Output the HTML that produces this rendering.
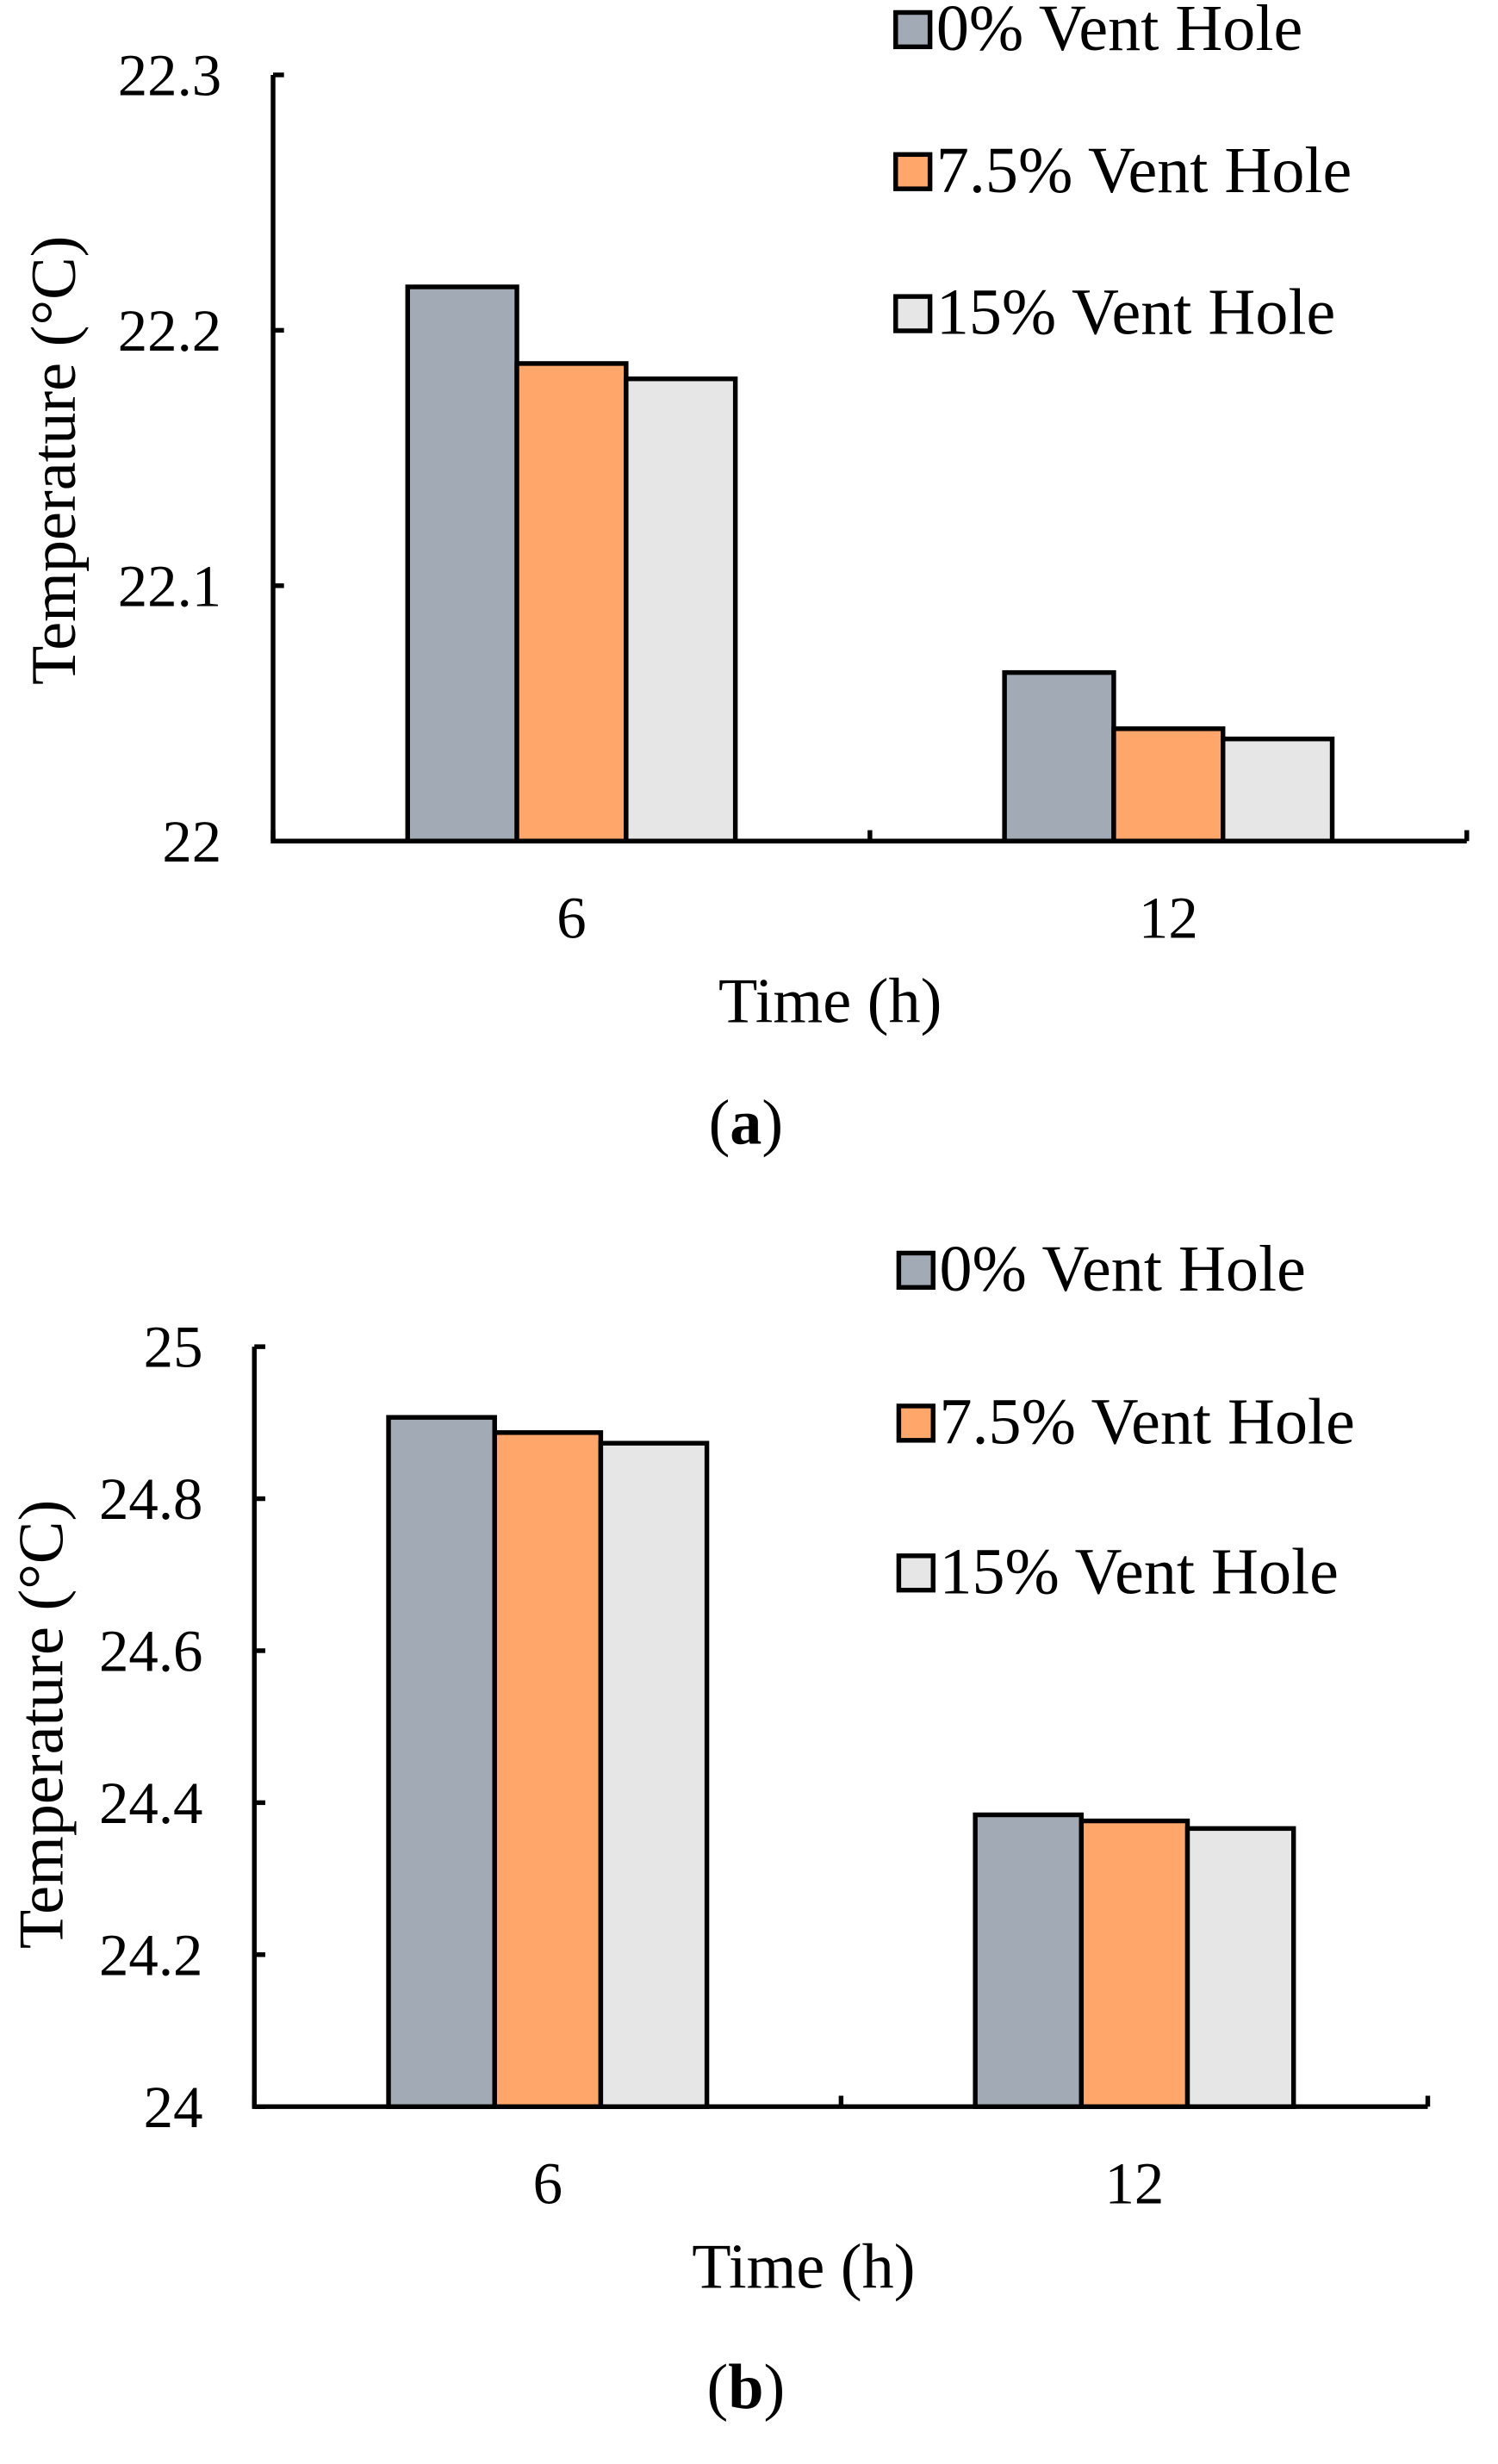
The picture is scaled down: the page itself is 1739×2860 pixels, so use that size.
<!DOCTYPE html>
<html><head><meta charset="utf-8"><style>
html,body{margin:0;padding:0;background:#fff;}
svg{display:block;font-family:"Liberation Serif",serif;}
</style></head><body>
<svg id="fig" width="1739" height="2860" viewBox="0 0 960 1579" preserveAspectRatio="none"></svg>
<script>
const categories = ["6", "12"];
const seriesNames = ["0% Vent Hole", "7.5% Vent Hole", "15% Vent Hole"];
const colors = ["#A1AAB5", "#FFA76B", "#E6E6E6"];
const aValues0 = [22.217, 22.066];
const aValues75 = [22.187, 22.044];
const aValues15 = [22.181, 22.040];
const aTicks = ["22", "22.1", "22.2", "22.3"];
const bValues0 = [24.907, 24.384];
const bValues75 = [24.887, 24.376];
const bValues15 = [24.873, 24.366];
const bTicks = ["24", "24.2", "24.4", "24.6", "24.8", "25"];

const NS = "http://www.w3.org/2000/svg";
const svg = document.getElementById("fig");
function mk(tag, attrs, parent) {
  const e = document.createElementNS(NS, tag);
  for (const k in attrs) e.setAttribute(k, attrs[k]);
  (parent || svg).appendChild(e);
  return e;
}

function drawChart(cfg) {
  const g = mk("g", {});
  
  
  const ymin = parseFloat(cfg.ticks[0]), ymax = parseFloat(cfg.ticks[cfg.ticks.length - 1]);
  const y = v => cfg.bottom - (v - ymin) / (ymax - ymin) * (cfg.bottom - cfg.top);
  const groupW = (cfg.right - cfg.left) / categories.length;
  const x = i => cfg.left + groupW * (i + 0.5);
  const series = cfg.series;
  series.forEach((vals, s) => {
    vals.forEach((v, i) => {
      const bx = x(i) - 1.5 * cfg.barW + s * cfg.barW;
      const r = mk("rect", {x: bx, y: y(v), width: cfg.barW, height: cfg.bottom - y(v), fill: colors[s], stroke: "#000", "stroke-width": 3}, g);
      
      
    });
  });
  const ax = mk("path", {d: `M${cfg.left} ${cfg.top} L${cfg.left} ${cfg.bottom} L${cfg.right} ${cfg.bottom}`, fill: "none", stroke: "#000", "stroke-width": 3}, g);
  
  
  cfg.ticks.forEach(t => {
    const ty = y(parseFloat(t));
    mk("line", {x1: cfg.left, x2: cfg.left + 7, y1: ty, y2: ty, stroke: "#000", "stroke-width": 3}, g);
    const tl = mk("text", {x: cfg.left - 33, y: ty + 13, "text-anchor": "end", "font-size": 38}, g);
    tl.textContent = t;
    
    
  });
  for (let i = 0; i <= categories.length; i++) {
    const tx = cfg.left + groupW * i;
    mk("line", {x1: tx, x2: tx, y1: cfg.bottom, y2: cfg.bottom - 7, stroke: "#000", "stroke-width": 3}, g);
  }
  categories.forEach((c, i) => {
    const tl = mk("text", {x: x(i), y: cfg.bottom + 62, "text-anchor": "middle", "font-size": 38}, g);
    tl.textContent = c;
    
    
  });
  const xt = mk("text", {x: cfg.xTitleX, y: cfg.bottom + 116, "text-anchor": "middle", "font-size": 41}, g);
  xt.textContent = "Time (h)";
  
  
  const yt = mk("text", {x: 0, y: 0, "text-anchor": "middle", "font-size": 41, transform: `translate(${cfg.yTitleX},${cfg.yTitleY}) rotate(-90)`}, g);
  yt.textContent = "Temperature (°C)";
  
  
  seriesNames.forEach((n, s) => {
    const ly = cfg.legendY[s];
    const lg = mk("g", {}, g);
    
    
    mk("rect", {x: cfg.legendX, y: ly, width: 22, height: 22, fill: colors[s], stroke: "#000", "stroke-width": 3}, lg);
    const lt = mk("text", {x: cfg.legendX + 26, y: ly + 24, "font-size": 42}, lg);
    lt.textContent = n;
  });
  const cap = mk("text", {x: 478, y: cfg.captionY, "text-anchor": "middle", "font-size": 41}, g);
  cap.innerHTML = '(<tspan font-weight="bold">' + cfg.id + '</tspan>)';
  
  
}

drawChart({id: "a", name: "chart-a", left: 175, right: 940, top: 48, bottom: 539, barW: 70,
  ticks: aTicks, series: [aValues0, aValues75, aValues15],
  xTitleX: 532, yTitleX: 48, yTitleY: 295, legendX: 574, legendY: [8, 99, 190], captionY: 733});
drawChart({id: "b", name: "chart-b", left: 163, right: 915, top: 863, bottom: 1350, barW: 68,
  ticks: bTicks, series: [bValues0, bValues75, bValues15],
  xTitleX: 515, yTitleX: 40, yTitleY: 1105, legendX: 576, legendY: [803, 901, 997], captionY: 1543});
</script>
</body></html>
